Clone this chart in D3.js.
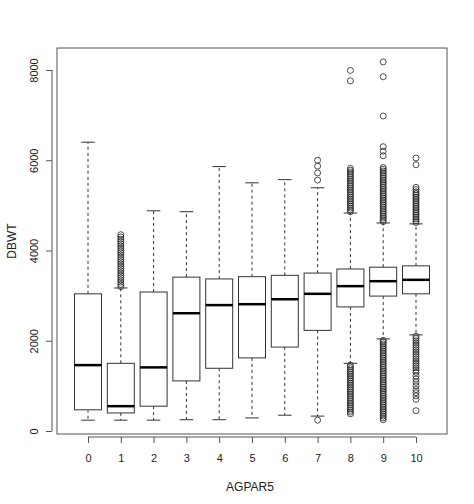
<!DOCTYPE html>
<html><head><meta charset="utf-8">
<script src="https://cdn.jsdelivr.net/npm/d3@7"></script>
<style>body{margin:0;background:#fff}text{font-family:"Liberation Sans",Arial,sans-serif}</style>
</head><body><svg id="c" width="474" height="504"></svg>
<script>
const categories = ["0","1","2","3","4","5","6","7","8","9","10"];
const whiskLow = [240,240,240,250,250,290,350,330,1500,2040,2130];
const q1 =       [470,400,550,1110,1390,1620,1860,2230,2750,2990,3040];
const median =   [1460,550,1410,2610,2790,2810,2920,3040,3210,3320,3350];
const q3 =       [3040,1500,3080,3410,3370,3420,3450,3500,3590,3630,3660];
const whiskHigh =[6400,3170,4880,4860,5860,5500,5570,5390,4830,4610,4590];
const outliers = [
  [],
  [3200,3250,3300,3350,3400,3450,3500,3550,3600,3650,3700,3750,3800,3850,3900,3950,4000,4050,4100,4150,4200,4250,4300,4350],
  [],[],[],[],[],
  [240,5560,5720,5870,6000],
  [380,420,460,500,540,580,620,660,700,740,780,820,860,900,940,980,1020,1060,1100,1140,1180,1220,1260,1300,1340,1380,1420,1460,
   4860,4900,4940,4980,5020,5060,5100,5140,5180,5220,5260,5300,5340,5380,5420,5460,5500,5540,5580,5620,5660,5700,5740,5780,5820,7760,7990],
  [250,290,330,370,410,450,490,530,570,610,650,690,730,770,810,850,890,930,970,1010,1050,1090,1130,1170,1210,1250,1290,1330,1370,1410,1450,1490,1530,1570,1610,1650,1690,1730,1770,1810,1850,1890,1930,1970,2010,
   4640,4680,4720,4760,4800,4840,4880,4920,4960,5000,5040,5080,5120,5160,5200,5240,5280,5320,5360,5400,5440,5480,5520,5560,5600,5640,5680,5720,5760,5800,5840,6100,6200,6300,6980,7850,8180],
  [450,700,780,850,920,1000,1080,1150,1220,1300,1350,1400,1450,1500,1550,1600,1650,1700,1750,1800,1850,1900,1950,2000,2050,2100,
   4620,4660,4700,4740,4780,4820,4860,4900,4940,4980,5020,5060,5100,5140,5180,5220,5260,5300,5350,5400,5900,6050]
];
const yTicks = [0,2000,4000,6000,8000];

const svg = d3.select("#c");
const x = d3.scalePoint().domain(categories).range([88,416]);
const y = d3.scaleLinear().domain([0,8000]).range([431,70]);
const bw = 27;

svg.append("rect").attr("x",57).attr("y",48).attr("width",390).attr("height",386)
  .attr("fill","none").attr("stroke","#555").attr("stroke-width",1);

categories.forEach((c,i)=>{
  const cx = x(c), g = svg.append("g").attr("stroke","#333").attr("fill","none");
  g.append("line").attr("x1",cx).attr("x2",cx).attr("y1",y(q3[i])).attr("y2",y(whiskHigh[i])).attr("stroke-dasharray","3,3");
  g.append("line").attr("x1",cx).attr("x2",cx).attr("y1",y(q1[i])).attr("y2",y(whiskLow[i])).attr("stroke-dasharray","3,3");
  [whiskHigh[i],whiskLow[i]].forEach(v=>g.append("line").attr("x1",cx-bw/4).attr("x2",cx+bw/4).attr("y1",y(v)).attr("y2",y(v)));
  g.append("rect").attr("x",cx-bw/2).attr("width",bw).attr("y",y(q3[i])).attr("height",y(q1[i])-y(q3[i])).attr("fill","#fff");
  g.append("line").attr("x1",cx-bw/2).attr("x2",cx+bw/2).attr("y1",y(median[i])).attr("y2",y(median[i])).attr("stroke","#000").attr("stroke-width",2.5);
  outliers[i].forEach(v=>g.append("circle").attr("cx",cx).attr("cy",y(v)).attr("r",3).attr("stroke","#222").attr("stroke-width",0.8));
});

const ya = svg.append("g").attr("transform","translate(52,0)")
  .call(d3.axisLeft(y).tickValues(yTicks).tickFormat(d3.format("d")).tickSize(6));
ya.selectAll(".tick text").attr("transform","translate(-14,0) rotate(-90)")
  .attr("x",0).attr("y",0).attr("dy","0").style("text-anchor","middle");
const xa = svg.append("g").attr("transform","translate(0,437)")
  .call(d3.axisBottom(x).tickSize(6).tickPadding(11));
[ya,xa].forEach(a=>{a.select(".domain").attr("stroke","#555");a.selectAll("line").attr("stroke","#555");
  a.selectAll("text").attr("font-size",11).attr("fill","#222").attr("font-family","Liberation Sans, Arial");});
xa.select(".domain").attr("d","M88,0H416");
ya.select(".domain").attr("d","M0,"+y(0)+"V"+y(8000));

svg.append("text").attr("x",250).attr("y",491).attr("text-anchor","middle").attr("font-size",12).attr("fill","#222").text("AGPAR5");
svg.append("text").attr("transform","translate(16,241) rotate(-90)").attr("text-anchor","middle").attr("font-size",12).attr("fill","#222").text("DBWT");
</script></body></html>
